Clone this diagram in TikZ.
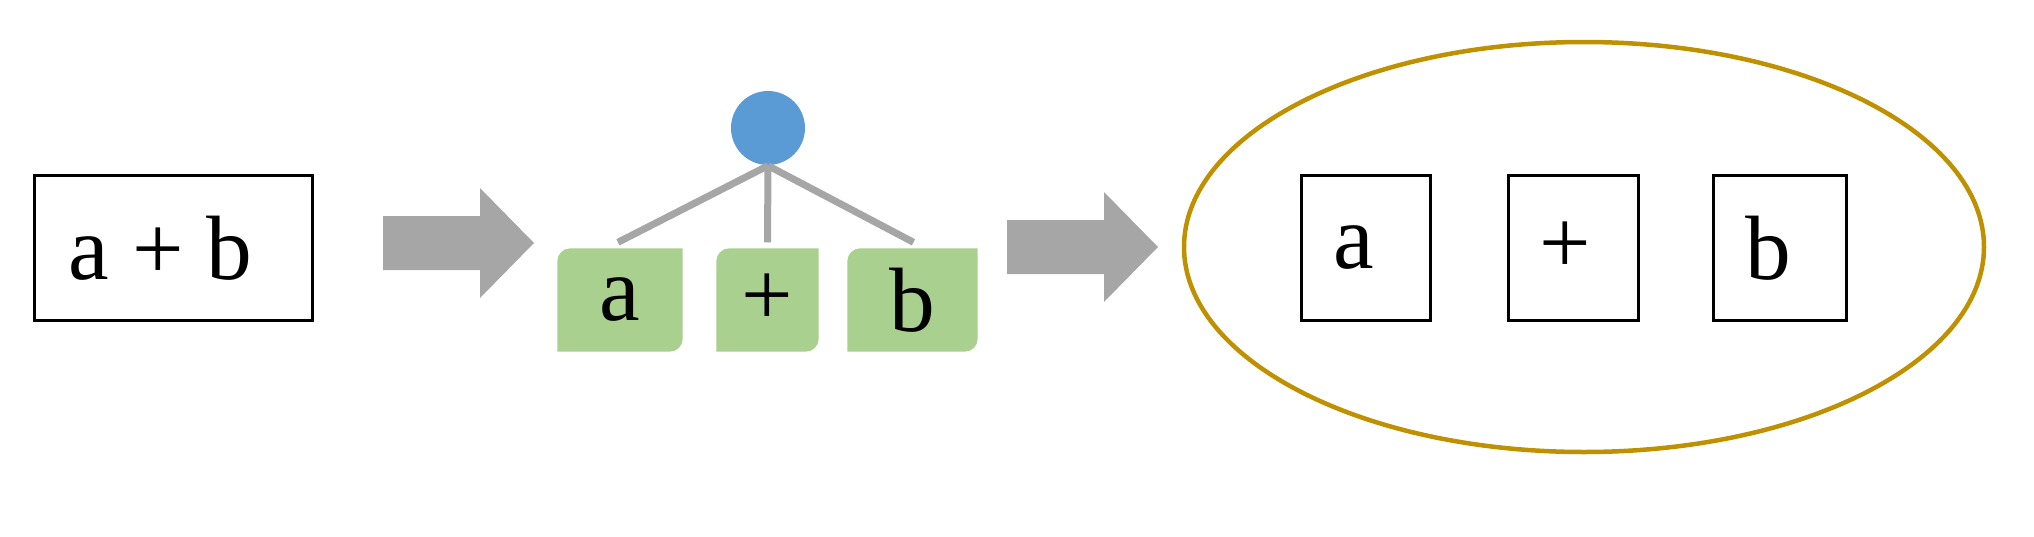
\documentclass[tikz,border=0pt]{standalone}
\usepackage{fontspec}
\setmainfont{Liberation Serif}
\usetikzlibrary{shapes.geometric}
\usetikzlibrary{backgrounds}
\definecolor{arrowgray}{HTML}{A6A6A6}
\definecolor{leafgreen}{HTML}{A9D08E}
\definecolor{rootblue}{HTML}{5B9BD5}
\definecolor{ringgold}{HTML}{BF9000}
\tikzset{
  tokbox/.style={draw=black, line width=0.035cm, minimum height=1.45cm, inner sep=0pt},
  leafbox/.style={minimum height=1.02cm, inner sep=0pt},
  branch/.style={draw=arrowgray, line width=0.07cm},
  blockarrow/.pic={
    \fill[arrowgray] (0,-0.27) -- (0.97,-0.27) -- (0.97,-0.55) -- (1.51,0)
      -- (0.97,0.55) -- (0.97,0.27) -- (0,0.27) -- cycle;
  }
}

\begin{document}
\begin{tikzpicture}[font=\fontsize{26}{30}\selectfont]
\useasboundingbox (0,0) rectangle (20.34,5.36);
\node[tokbox, minimum width=2.78cm, label={[xshift=-0.13cm]center:a + b}] (expr) at (1.735,2.88) {};
\pic at (3.83,2.93) {blockarrow};
\node[circle, fill=rootblue, minimum size=0.74cm, inner sep=0pt] (root) at (7.68,4.08) {};
\node[leafbox, minimum width=1.24cm] (ga) at (6.20,2.36) {a};
\node[leafbox, minimum width=1.01cm] (gp) at (7.675,2.36) {+};
\node[leafbox, minimum width=1.29cm] (gb) at (9.125,2.36) {b};
\begin{scope}[on background layer]
\foreach \n in {ga,gp,gb}
  \fill[leafgreen] (\n.south west) -- ([yshift=-0.13cm]\n.north west)
    arc[start angle=180, end angle=90, radius=0.13cm] -- (\n.north east)
    -- ([yshift=0.13cm]\n.south east)
    arc[start angle=0, end angle=-90, radius=0.13cm] -- cycle;
\end{scope}
\draw[branch] (root.south) -- ([xshift=-0.02cm,yshift=0.06cm]ga.north);
\draw[branch] (root.south) -- ([yshift=0.06cm]gp.north);
\draw[branch] (root.south) -- ([xshift=0.01cm,yshift=0.06cm]gb.north);
\pic at (10.07,2.89) {blockarrow};
\node[ellipse, draw=ringgold, line width=0.045cm, minimum width=8.0cm, minimum height=4.1cm, inner sep=0pt] (ring) at (15.84,2.89) {};
\node[tokbox, minimum width=1.29cm, label={[xshift=-0.12cm]center:a}] (ta) at (13.66,2.88) {};
\node[tokbox, minimum width=1.30cm, label={[xshift=-0.08cm]center:+}] (tp) at (15.735,2.88) {};
\node[tokbox, minimum width=1.33cm, label={[xshift=-0.12cm]center:b}] (tb) at (17.80,2.88) {};
\end{tikzpicture}
\end{document}
